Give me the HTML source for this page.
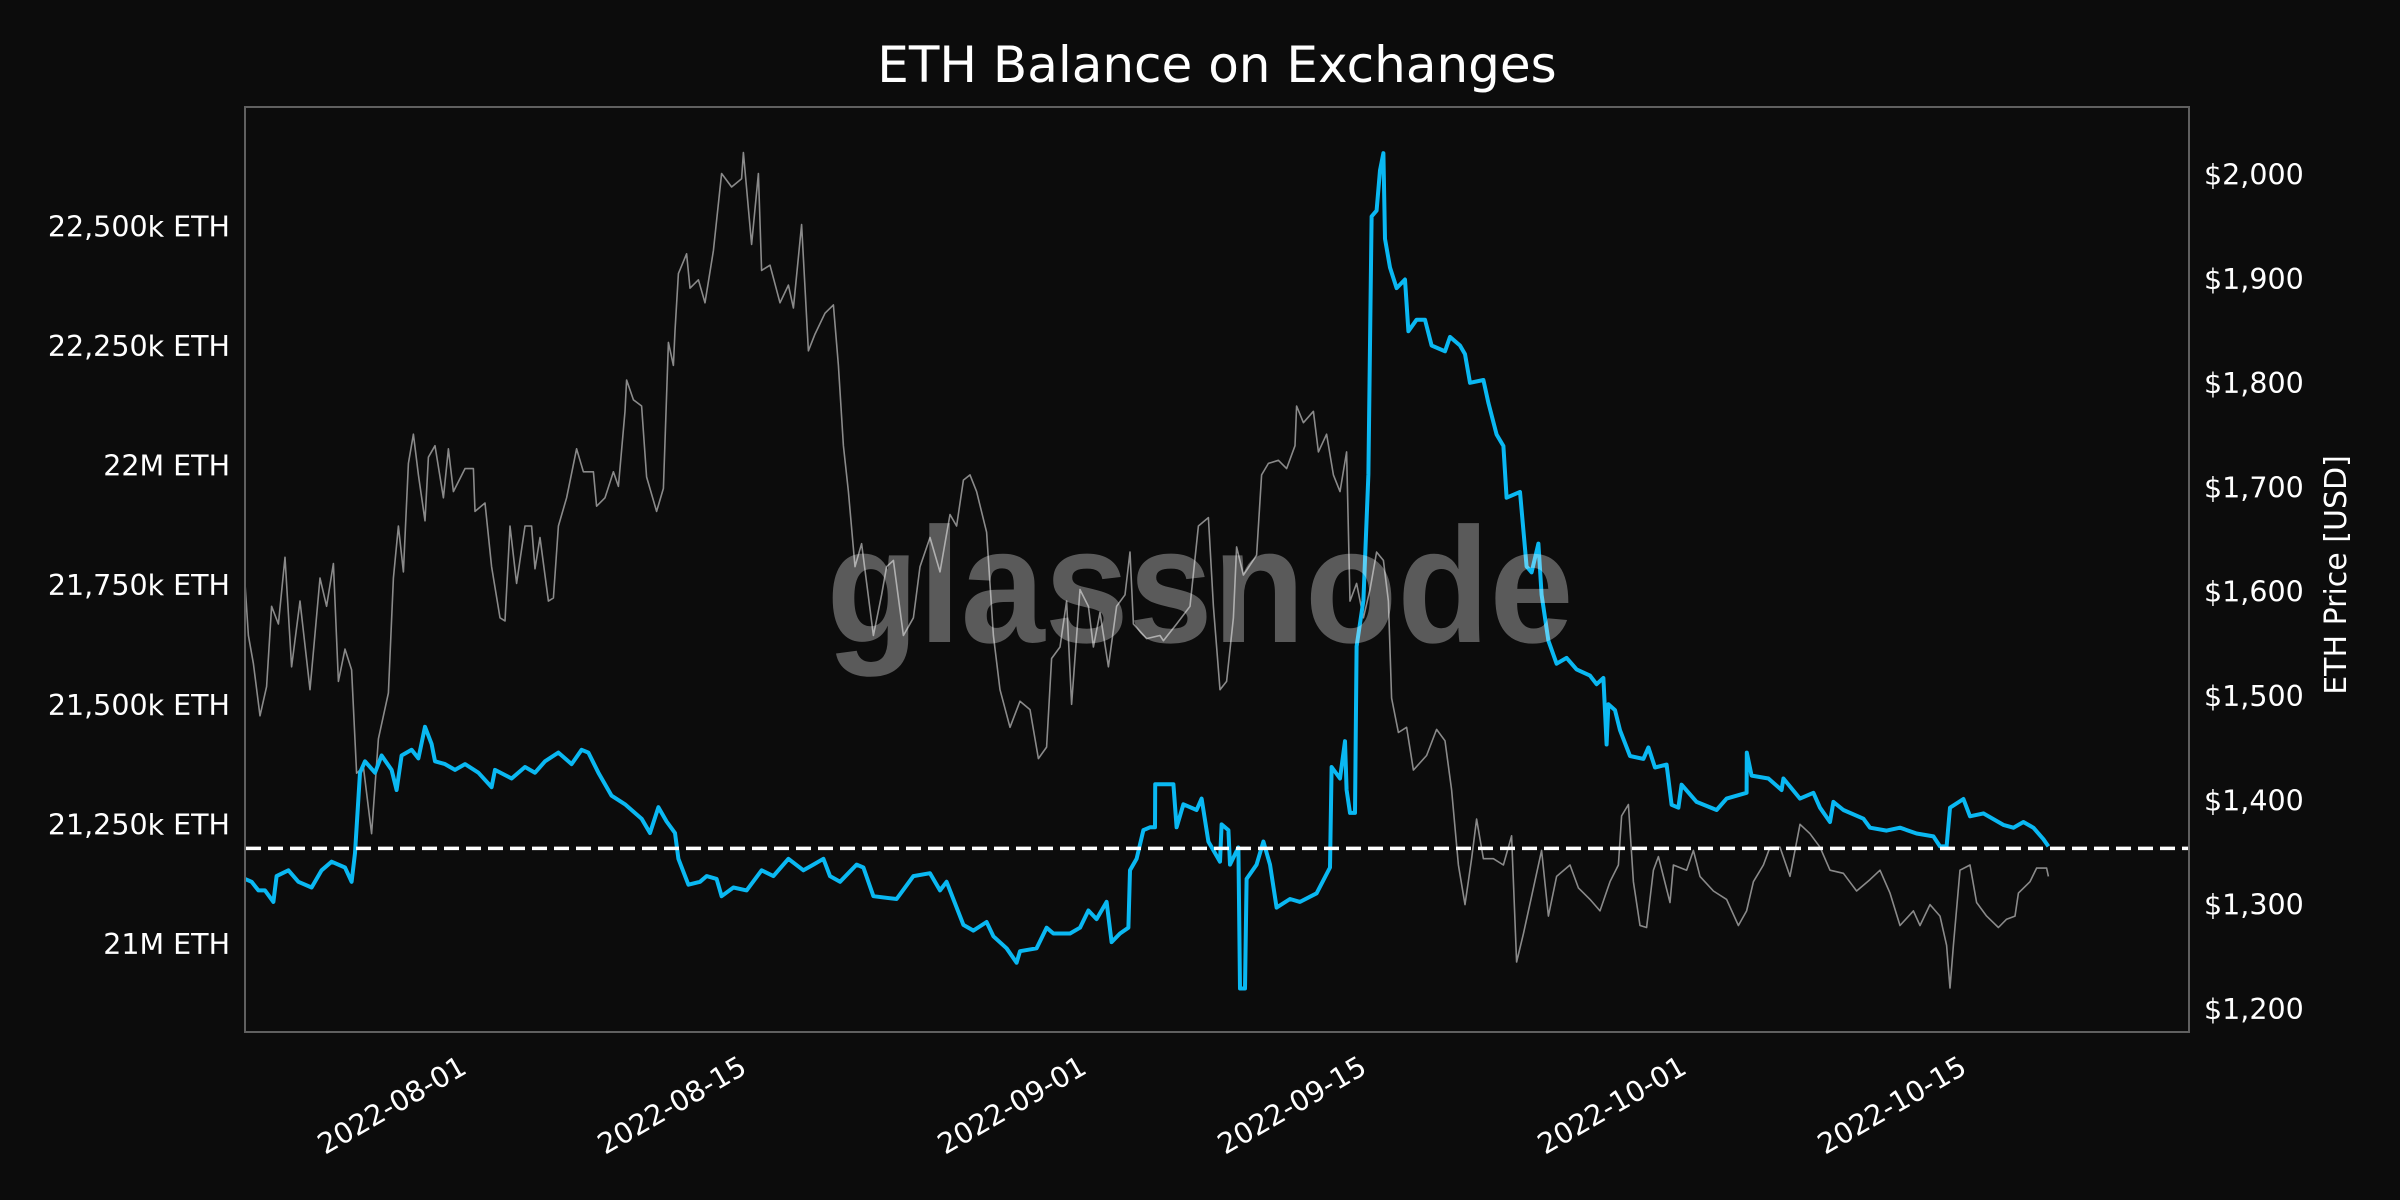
<!DOCTYPE html>
<html><head><meta charset="utf-8"><title>ETH Balance on Exchanges</title>
<style>html,body{margin:0;padding:0;background:#0c0c0c;}svg{display:block;}text{font-family:"DejaVu Sans","Liberation Sans",sans-serif;}</style>
</head><body>
<svg id="chart" width="2400" height="1200" viewBox="0 0 2400 1200" xmlns="http://www.w3.org/2000/svg">
<rect x="0" y="0" width="2400" height="1200" fill="#0c0c0c"/>
<text x="1217" y="82" font-size="50" fill="#ffffff" text-anchor="middle">ETH Balance on Exchanges</text>
<g id="gray"></g>
<g id="blue"></g>
<g id="ref"></g>
<text x="1200" y="642" font-size="164" font-weight="bold" fill="#ffffff" fill-opacity="0.32" text-anchor="middle" style="font-family:'Liberation Sans',sans-serif" textLength="747" lengthAdjust="spacingAndGlyphs">glassnode</text>
<rect x="245" y="107" width="1944" height="925" fill="none" stroke="#606060" stroke-width="2"/>
<g id="yl"></g>
<g id="yr"></g>
<g id="xa"></g>
<text transform="translate(2346,575) rotate(-90)" font-size="30" fill="#ffffff" text-anchor="middle">ETH Price [USD]</text>
</svg>
<script>
// days relative to 2022-08-01
const balanceDays = [-11.25,-10.92,-10.58,-10.25,-9.83,-9.67,-9.08,-8.58,-7.92,-7.42,-6.92,-6.25,-5.92,-5.75,-5.5,-5.25,-4.75,-4.42,-3.92,-3.67,-3.42,-2.92,-2.58,-2.25,-1.92,-1.75,-1.25,-0.75,-0.25,0.42,1.08,1.25,2.08,2.75,3.25,3.75,4.42,5.08,5.58,5.92,6.42,7.08,7.75,8.58,9.0,9.42,9.83,10.25,10.42,10.92,11.5,11.83,12.33,12.58,13.17,13.83,14.58,15.17,15.92,16.67,17.17,17.67,18.0,18.5,19.33,19.67,20.17,21.33,22.17,23.0,23.5,23.83,24.67,25.17,25.83,26.17,26.83,27.33,27.5,28.33,28.83,29.17,30.0,30.5,30.92,31.33,31.83,32.08,32.5,32.92,33.0,33.33,33.67,34.0,34.25,34.26,35.17,35.33,35.67,36.33,36.58,36.92,37.5,37.58,37.92,38.0,38.42,38.5,38.75,38.83,39.33,39.67,40.0,40.33,41.0,41.5,42.33,43.0,43.08,43.5,43.75,43.83,44.0,44.25,44.33,44.67,44.92,45.08,45.33,45.5,45.67,45.75,46.0,46.33,46.75,46.92,47.33,47.75,48.08,48.75,49.0,49.5,49.75,50.0,50.67,50.92,51.33,51.67,51.83,52.5,52.83,53.08,53.42,53.58,53.92,54.33,54.83,55.33,56.0,56.33,56.67,56.83,56.92,57.25,57.5,58.0,58.67,58.92,59.25,59.83,60.08,60.42,60.58,61.33,62.33,62.83,63.83,63.84,64.08,64.92,65.58,65.67,66.5,67.17,67.5,68.0,68.17,68.67,69.67,70.0,70.83,71.5,72.33,73.17,73.5,73.83,74.0,74.67,75.0,75.67,76.17,76.67,77.17,77.67,78.17,78.67,78.92];
const balanceValues = [21136,21130,21112,21112,21088,21142,21154,21130,21118,21154,21172,21160,21130,21190,21358,21382,21358,21394,21364,21322,21394,21406,21388,21454,21418,21382,21376,21364,21376,21358,21328,21364,21346,21370,21358,21382,21400,21376,21406,21400,21358,21310,21292,21262,21232,21286,21256,21232,21178,21124,21130,21142,21136,21100,21118,21112,21154,21142,21178,21154,21166,21178,21142,21130,21166,21160,21100,21094,21142,21148,21112,21130,21040,21028,21046,21016,20991,20961,20985,20991,21034,21022,21022,21034,21070,21052,21088,21004,21022,21034,21154,21178,21238,21244,21244,21334,21334,21244,21292,21280,21304,21214,21172,21250,21238,21166,21202,20907,20907,21136,21166,21214,21166,21076,21094,21088,21106,21160,21370,21346,21424,21322,21274,21274,21622,21718,21982,22521,22533,22617,22653,22474,22414,22371,22389,22281,22305,22305,22251,22239,22269,22251,22233,22173,22179,22131,22065,22041,21933,21945,21789,21777,21837,21730,21634,21586,21598,21574,21561,21543,21556,21417,21501,21489,21447,21393,21387,21411,21369,21375,21291,21285,21333,21297,21280,21304,21316,21400,21352,21346,21322,21346,21304,21316,21285,21255,21297,21280,21262,21243,21237,21243,21231,21225,21204,21204,21285,21303,21267,21273,21261,21249,21243,21255,21243,21219,21204];
const priceDays = [-11.25,-11.08,-10.83,-10.5,-10.17,-9.92,-9.58,-9.25,-8.92,-8.5,-8.0,-7.5,-7.17,-6.83,-6.58,-6.25,-5.92,-5.67,-5.33,-4.92,-4.58,-4.08,-3.83,-3.58,-3.33,-3.08,-2.83,-2.58,-2.25,-2.08,-1.75,-1.33,-1.08,-0.83,-0.25,0.17,0.25,0.75,1.08,1.5,1.75,2.0,2.33,2.75,3.08,3.25,3.5,3.92,4.17,4.42,4.83,5.33,5.67,6.17,6.33,6.75,7.17,7.42,7.75,7.83,8.17,8.58,8.83,9.33,9.67,9.92,10.17,10.25,10.42,10.83,11.0,11.42,11.75,12.17,12.58,13.08,13.58,13.67,14.08,14.42,14.58,15.0,15.5,15.92,16.17,16.58,16.92,17.25,17.75,18.17,18.42,18.67,18.92,19.25,19.58,20.17,20.58,20.83,21.17,21.67,22.17,22.5,23.0,23.5,24.0,24.33,24.67,25.0,25.33,25.83,26.17,26.5,27.0,27.5,28.0,28.42,28.83,29.08,29.5,29.83,30.08,30.5,30.92,31.17,31.5,31.92,32.33,32.75,33.0,33.17,33.83,34.5,34.67,35.33,36.0,36.42,36.92,37.17,37.5,37.83,38.17,38.33,38.67,39.33,39.58,39.92,40.42,40.83,41.25,41.33,41.67,42.17,42.42,42.83,43.17,43.5,43.83,44.0,44.33,44.67,45.0,45.33,45.67,45.92,46.08,46.42,46.83,47.17,47.83,48.33,48.75,49.08,49.42,49.75,50.08,50.33,50.67,51.17,51.67,52.08,52.33,52.67,53.08,53.58,53.92,54.33,55.0,55.42,56.0,56.5,57.0,57.42,57.58,57.92,58.17,58.5,58.83,59.17,59.42,60.0,60.17,60.83,61.17,61.5,62.17,62.83,63.42,63.83,64.17,64.67,65.0,65.5,66.0,66.5,67.0,67.5,68.0,68.67,69.33,70.0,70.5,71.0,71.5,72.17,72.5,73.0,73.5,73.83,74.0,74.17,74.5,75.0,75.33,75.83,76.42,76.83,77.25,77.42,78.0,78.33,78.83,78.92];
const priceValues = [1608,1558,1531,1481,1509,1586,1569,1633,1528,1591,1506,1613,1586,1627,1514,1545,1525,1426,1432,1368,1459,1503,1613,1663,1619,1723,1751,1712,1668,1729,1740,1690,1737,1696,1718,1718,1677,1685,1624,1575,1572,1663,1608,1663,1663,1622,1652,1591,1594,1663,1690,1737,1715,1715,1682,1690,1715,1701,1773,1803,1784,1778,1710,1677,1699,1839,1817,1850,1905,1924,1891,1899,1877,1927,2001,1988,1996,2021,1933,2001,1908,1913,1877,1894,1872,1952,1831,1847,1867,1875,1817,1740,1696,1624,1646,1558,1597,1624,1630,1558,1575,1624,1652,1619,1674,1663,1707,1712,1696,1657,1558,1506,1470,1495,1487,1440,1451,1536,1547,1591,1492,1602,1586,1547,1580,1528,1586,1597,1638,1569,1555,1558,1553,1569,1586,1663,1671,1586,1506,1514,1575,1643,1616,1635,1712,1723,1726,1718,1740,1778,1762,1773,1734,1751,1712,1696,1734,1591,1608,1575,1602,1638,1630,1591,1498,1465,1470,1429,1443,1468,1457,1410,1338,1300,1344,1382,1344,1344,1338,1366,1245,1272,1308,1352,1289,1327,1338,1316,1305,1294,1322,1338,1385,1396,1322,1280,1278,1333,1346,1302,1338,1333,1352,1327,1313,1305,1280,1294,1322,1338,1355,1355,1327,1377,1368,1355,1333,1330,1313,1324,1333,1311,1280,1294,1280,1300,1289,1261,1220,1261,1333,1338,1302,1289,1278,1286,1289,1311,1322,1335,1335,1327];
const referenceValue = [21200];
const leftTickValues = [21000,21250,21500,21750,22000,22250,22500];
const leftTickLabels = ["21M ETH","21,250k ETH","21,500k ETH","21,750k ETH","22M ETH","22,250k ETH","22,500k ETH"];
const rightTickValues = [1200,1300,1400,1500,1600,1700,1800,1900,2000];
const rightTickLabels = ["$1,200","$1,300","$1,400","$1,500","$1,600","$1,700","$1,800","$1,900","$2,000"];
const dateTickDays = [0,14,31,45,61,75];
const dateTickLabels = ["2022-08-01","2022-08-15","2022-09-01","2022-09-15","2022-10-01","2022-10-15"];

const NS = "http://www.w3.org/2000/svg";
function xScale(d){ return 470 + d*20.0; }
function yLeft(v){ return 944 - (v-21000)*119.6/250; }
function yRight(p){ return 174.5 + (2000-p)*1.043; }

function pathFrom(days, vals, yf){
  let s = "";
  for (let i=0;i<days.length;i++){ s += (i?"L":"M") + xScale(days[i]).toFixed(1) + "," + yf(vals[i]).toFixed(1); }
  return s;
}
const gp = document.createElementNS(NS,"path");


gp.setAttribute("d", pathFrom(priceDays, priceValues, yRight));
gp.setAttribute("fill","none"); gp.setAttribute("stroke","#8a8a8a"); gp.setAttribute("stroke-width","1.6"); gp.setAttribute("stroke-linejoin","round");
document.getElementById("gray").appendChild(gp);

const bp = document.createElementNS(NS,"path");


bp.setAttribute("d", pathFrom(balanceDays, balanceValues, yLeft));
bp.setAttribute("fill","none"); bp.setAttribute("stroke","#0ab8f2"); bp.setAttribute("stroke-width","4"); bp.setAttribute("stroke-linejoin","round");
document.getElementById("blue").appendChild(bp);

const rl = document.createElementNS(NS,"line");


rl.setAttribute("x1","246"); rl.setAttribute("x2","2188");
rl.setAttribute("y1", yLeft(referenceValue[0])); rl.setAttribute("y2", yLeft(referenceValue[0]));
rl.setAttribute("stroke","#ffffff"); rl.setAttribute("stroke-width","3.5"); rl.setAttribute("stroke-dasharray","15 7");
document.getElementById("ref").appendChild(rl);

leftTickValues.forEach((v,i)=>{
  const t = document.createElementNS(NS,"text");
  
  
  t.setAttribute("x","230"); t.setAttribute("y", yLeft(v)+10);
  t.setAttribute("font-size","28.5"); t.setAttribute("fill","#ffffff"); t.setAttribute("text-anchor","end");
  t.textContent = leftTickLabels[i];
  document.getElementById("yl").appendChild(t);
});
rightTickValues.forEach((v,i)=>{
  const t = document.createElementNS(NS,"text");
  
  
  t.setAttribute("x","2204"); t.setAttribute("y", yRight(v)+10);
  t.setAttribute("font-size","28.5"); t.setAttribute("fill","#ffffff");
  t.textContent = rightTickLabels[i];
  document.getElementById("yr").appendChild(t);
});
dateTickDays.forEach((d,i)=>{
  const t = document.createElementNS(NS,"text");
  
  
  const x = xScale(d) - 12, y = 1054;
  t.setAttribute("transform","translate("+x+","+y+") rotate(-30)");
  t.setAttribute("x","0"); t.setAttribute("y","21");
  t.setAttribute("font-size","28.5"); t.setAttribute("fill","#ffffff"); t.setAttribute("text-anchor","end");
  t.textContent = dateTickLabels[i];
  document.getElementById("xa").appendChild(t);
});
</script>
</body></html>
